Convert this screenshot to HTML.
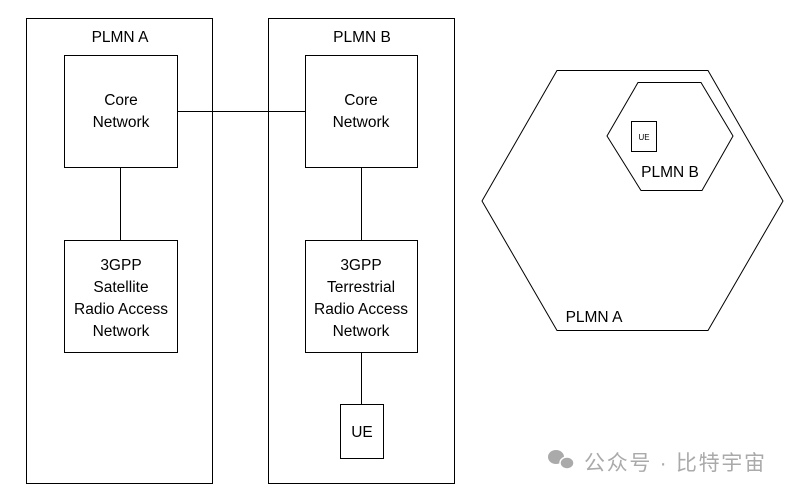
<!DOCTYPE html>
<html><head><style>
body{margin:0;width:792px;height:493px;background:#fff;overflow:hidden}
</style></head><body>
<svg width="792" height="493" xmlns="http://www.w3.org/2000/svg" font-family="Liberation Sans, sans-serif" font-size="15.5" fill="none" stroke="#000" stroke-width="1">
<rect x="26.5" y="18.5" width="186" height="465"/>
<rect x="268.5" y="18.5" width="186" height="465"/>
<rect x="64.5" y="55.5" width="113" height="112"/>
<rect x="305.5" y="55.5" width="112" height="112"/>
<rect x="64.5" y="240.5" width="113" height="112"/>
<rect x="305.5" y="240.5" width="112" height="112"/>
<rect x="340.5" y="404.5" width="43" height="54"/>
<line x1="177" y1="111.5" x2="305" y2="111.5"/>
<line x1="120.5" y1="167" x2="120.5" y2="240"/>
<line x1="361.5" y1="167" x2="361.5" y2="240"/>
<line x1="361.5" y1="352" x2="361.5" y2="404"/>
<polygon points="557,70.5 708,70.5 783,201 708,330.5 557,330.5 482,201"/>
<polygon points="638,82.5 701,82.5 733,136 702,190.5 641,190.5 607,136"/>
<rect x="631.5" y="121.5" width="25" height="30"/>
<g fill="#000" stroke="none" text-anchor="middle">
<text x="120" y="42">PLMN A</text>
<text x="362" y="42">PLMN B</text>
<text x="121" y="105">Core</text>
<text x="121" y="127">Network</text>
<text x="361" y="105">Core</text>
<text x="361" y="127">Network</text>
<text x="121" y="270">3GPP</text>
<text x="121" y="292">Satellite</text>
<text x="121" y="314">Radio Access</text>
<text x="121" y="336">Network</text>
<text x="361" y="270">3GPP</text>
<text x="361" y="292">Terrestrial</text>
<text x="361" y="314">Radio Access</text>
<text x="361" y="336">Network</text>
<text x="362" y="437">UE</text>
<text x="644" y="140" font-size="8">UE</text>
<text x="670" y="177">PLMN B</text>
<text x="594" y="322">PLMN A</text>
</g>
<g fill="#aaa" stroke="none">
<ellipse cx="556" cy="457" rx="8" ry="7"/>
<ellipse cx="567" cy="463" rx="7" ry="6" stroke="#fff" stroke-width="1.5"/>
<text x="584" y="470" font-size="21" textLength="181" font-family="Liberation Sans, Noto Sans CJK SC, sans-serif">公众号 · 比特宇宙</text>
</g>
</svg>
</body></html>
